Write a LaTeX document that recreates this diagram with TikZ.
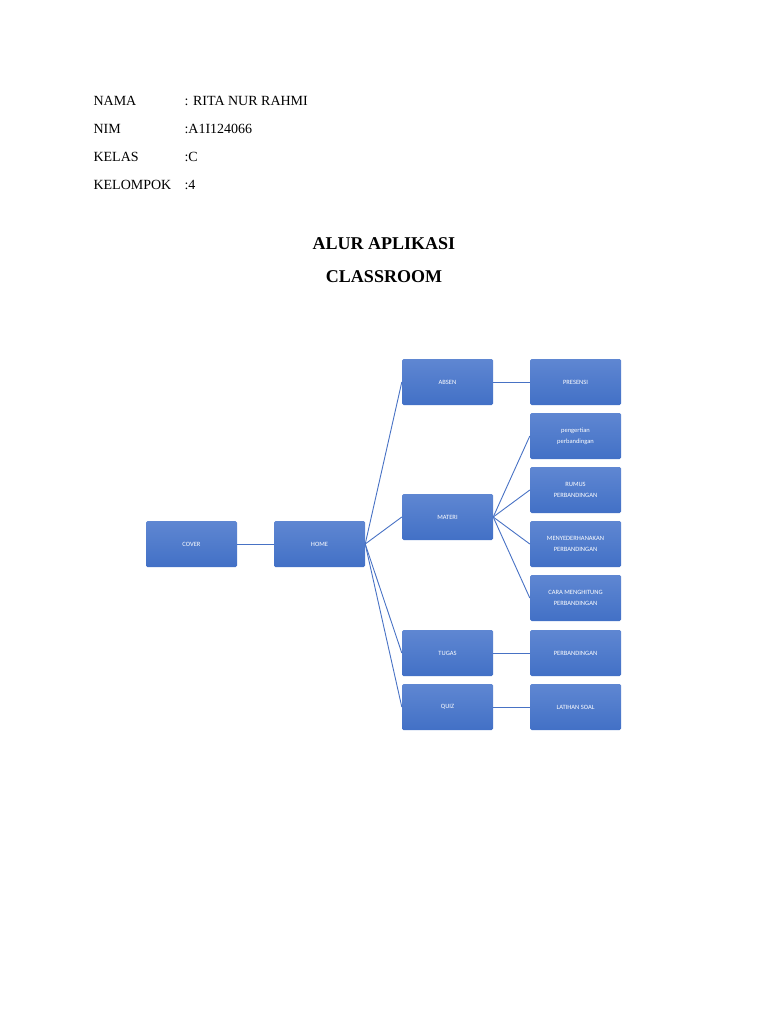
\documentclass[tikz,border=0pt]{standalone}
\usepackage{fontspec}
\setmainfont{Liberation Serif}
\newfontfamily\boxfont{Carlito}
\begin{document}
\begin{tikzpicture}[x=1pt,y=-1pt,
  bx/.style={rectangle,rounded corners=1.5pt,minimum width=91pt,minimum height=46pt,top color={rgb,255:red,95;green,135;blue,210},bottom color={rgb,255:red,66;green,112;blue,198},draw=none,text=white,font=\boxfont\fontsize{6.5}{11}\selectfont,align=center,inner sep=1pt},
  ln/.style={draw={rgb,255:red,72;green,114;blue,196},line width=0.9pt},
  lbl/.style={anchor=base west,font=\fontsize{14}{16}\selectfont}]
\useasboundingbox (0,0) rectangle (768,1024);
\node[lbl] (n1) at (90,106) {NAMA};
\node[lbl] (v1) at (181,106) {: RITA NUR RAHMI};
\node[lbl] (n2) at (90,134) {NIM};
\node[lbl] (v2) at (181,134) {:A1I124066};
\node[lbl] (n3) at (90,162) {KELAS};
\node[lbl] (v3) at (181,162) {:C};
\node[lbl] (n4) at (90,190) {KELOMPOK};
\node[lbl] (v4) at (181,190) {:4};
\node[font=\bfseries\fontsize{18}{20}\selectfont] (t1) at (384,244) {ALUR APLIKASI};
\node[font=\bfseries\fontsize{18}{20}\selectfont] (t2) at (384,277) {CLASSROOM};
\node[bx] (cover) at (191.5,544) {COVER};
\node[bx] (home) at (319.5,544) {HOME};
\node[bx] (absen) at (447.5,382) {ABSEN};
\node[bx] (materi) at (447.5,517) {MATERI};
\node[bx] (tugas) at (447.5,653) {TUGAS};
\node[bx] (quiz) at (447.5,707) {QUIZ};
\node[bx] (presensi) at (575.5,382) {PRESENSI};
\node[bx] (peng) at (575.5,436) {pengertian\\perbandingan};
\node[bx] (rumus) at (575.5,490) {RUMUS\\PERBANDINGAN};
\node[bx] (meny) at (575.5,544) {MENYEDERHANAKAN\\PERBANDINGAN};
\node[bx] (cara) at (575.5,598) {CARA MENGHITUNG\\PERBANDINGAN};
\node[bx] (perb) at (575.5,653) {PERBANDINGAN};
\node[bx] (lat) at (575.5,707) {LATIHAN SOAL};
\draw[ln] (cover.east) -- (home.west);
\foreach \t in {absen,materi,tugas,quiz} \draw[ln] (home.east) -- (\t.west);
\foreach \t in {peng,rumus,meny,cara} \draw[ln] (materi.east) -- (\t.west);
\draw[ln] (absen.east) -- (presensi.west);
\draw[ln,line width=0.5pt] (tugas.east) -- (perb.west);
\draw[ln] (quiz.east) -- (lat.west);
\end{tikzpicture}
\end{document}
